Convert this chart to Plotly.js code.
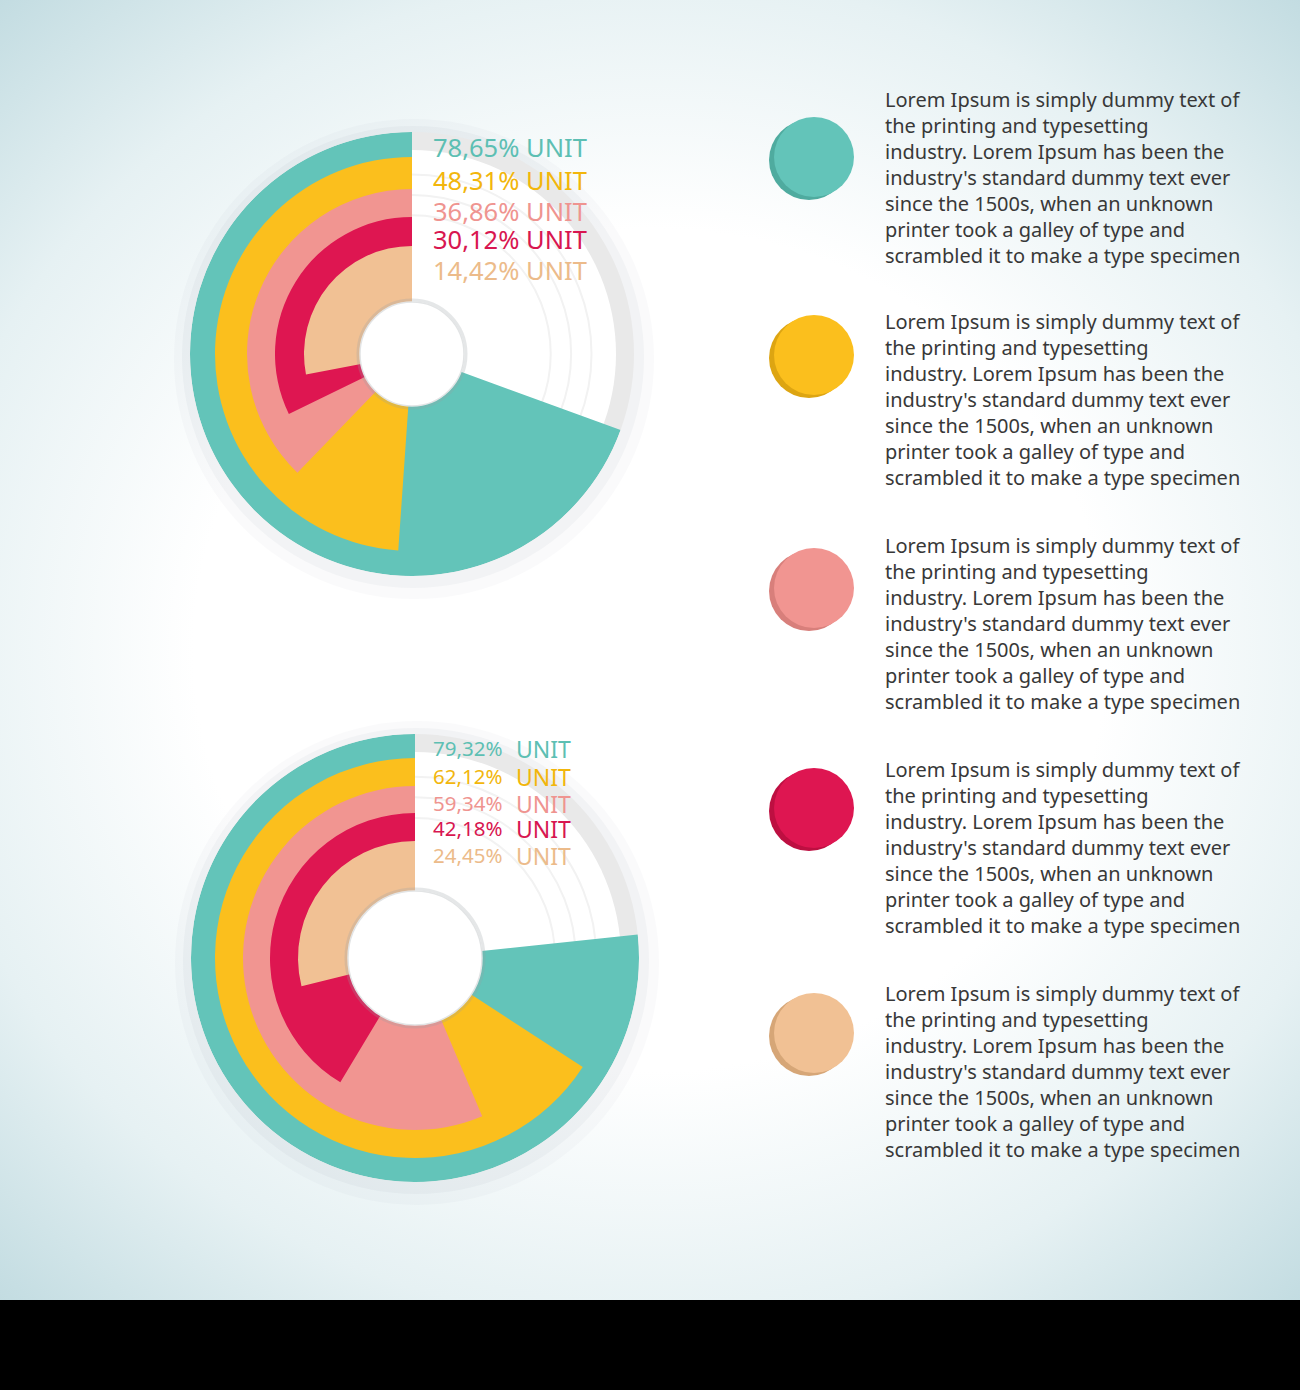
<!DOCTYPE html>
<html>
<head>
<meta charset="utf-8">
<script src="https://cdn.plot.ly/plotly-3.0.1.min.js"></script>
<style>
body{margin:0;}
#bg{position:absolute;left:0;top:0;width:1300px;height:1300px;
  background:radial-gradient(ellipse 78% 72% at 50% 50%, #ffffff 45%, #e6f1f3 72%, #bad7dd 100%);}
#band{position:absolute;left:0;top:1300px;width:1300px;height:90px;background:#000;}
#chart{position:absolute;left:0;top:0;width:1300px;height:1390px;}
</style>
</head>
<body>
<div id="bg"></div>
<div id="band"></div>
<div id="chart"></div>
<script>
// series colours, outer ring first
const ringColors = ['#63c4b9', '#fbbf1d', '#f19591', '#de1651', '#f1c194'];
const labelColors = ['#5dbfb3', '#f2b60c', '#ef9490', '#d81650', '#ecbb8a'];
const dotShadow = ['#4fab9f', '#dda512', '#d87f7b', '#bd0f41', '#d6a677'];

// top chart: labels, ring length and angular sweep (deg)
const topPct = ['78,65%', '48,31%', '36,86%', '30,12%', '14,42%'];
const topLength = [170, 145, 113, 85, 56];
const topSweep = [250, 176, 136, 116, 101];

// bottom chart
const bottomPct = ['79,32%', '62,12%', '59,34%', '42,18%', '24,45%'];
const bottomLength = [157, 133, 105, 78, 50];
const bottomSweep = [276, 237, 203, 149, 104];

const unitLabel = 'UNIT';

const paraLines = [
  'Lorem Ipsum is simply dummy text of',
  'the printing and typesetting',
  'industry. Lorem Ipsum has been the',
  "industry's standard dummy text ever",
  'since the 1500s, when an unknown',
  'printer took a galley of type and',
  'scrambled it to make a type specimen'
];

const W = 1300, H = 1390;
const px = x => x / W;
const py = y => 1 - y / H;

function dom(cx, cy, r){
  return {x: [px(cx - r), px(cx + r)], y: [py(cy + r), py(cy - r)]};
}

function circle(cx, cy, r, fill, line, lw, layer){
  return {type: 'circle', xref: 'paper', yref: 'paper', layer: layer || 'below',
    x0: px(cx - r), x1: px(cx + r), y0: py(cy + r), y1: py(cy - r),
    fillcolor: fill, line: {color: line || 'rgba(0,0,0,0)', width: lw || 0}};
}

const charts = [
  {subplot: 'polar', cx: 412, cy: 354, R: 222, hole: 52, len: topLength, sweep: topSweep},
  {subplot: 'polar2', cx: 415, cy: 958, R: 224, hole: 67, len: bottomLength, sweep: bottomSweep}
];

const data = [];
const shapes = [];

charts.forEach(c => {
  // soft shadow + grey rim + white face with faint rings
  shapes.push(circle(c.cx + 2, c.cy + 5, c.R + 18, 'rgba(120,140,150,0.04)'));
  shapes.push(circle(c.cx + 1, c.cy + 3, c.R + 9, 'rgba(120,140,150,0.06)'));
  shapes.push(circle(c.cx, c.cy, c.R, '#e9e9e9'));
  shapes.push(circle(c.cx, c.cy, c.R - 18, '#ffffff'));
  [0.88, 0.78, 0.68].forEach(f => {
    shapes.push(circle(c.cx, c.cy, (c.R - 18) * f, 'rgba(0,0,0,0)', '#f2f2f2', 2));
  });
  // hole
  shapes.push(circle(c.cx, c.cy, c.hole + 2, 'rgba(0,0,0,0)', 'rgba(150,160,165,0.25)', 3, 'above'));
  shapes.push(circle(c.cx, c.cy, c.hole, '#ffffff', '#e2e4e5', 1.5, 'above'));

  c.len.forEach((v, k) => {
    data.push({
      type: 'barpolar',
      subplot: c.subplot,
      r: [v],
      theta: [90 + c.sweep[k] / 2],
      width: [c.sweep[k]],
      marker: {color: ringColors[k], line: {width: 0}},
      hoverinfo: 'skip',
      showlegend: false
    });
  });
});

const annotations = [];
const font = 'Noto Sans, Open Sans, sans-serif';

// top labels
const topLabelY = [147, 180, 211, 239, 270];
topPct.forEach((t, k) => {
  annotations.push({xref: 'paper', yref: 'paper', x: px(432), y: py(topLabelY[k]),
    xanchor: 'left', yanchor: 'middle', showarrow: false, borderpad: 0,
    text: t + ' ' + unitLabel,
    font: {family: font, size: 25.5, color: labelColors[k]}});
});

// bottom labels
const bottomLabelY = [748, 776, 803, 828, 855];
bottomPct.forEach((t, k) => {
  annotations.push({xref: 'paper', yref: 'paper', x: px(432), y: py(bottomLabelY[k]),
    xanchor: 'left', yanchor: 'middle', showarrow: false, borderpad: 0, text: t,
    font: {family: font, size: 20.5, color: labelColors[k]}});
  annotations.push({xref: 'paper', yref: 'paper', x: px(515), y: py(bottomLabelY[k] + 1),
    xanchor: 'left', yanchor: 'middle', showarrow: false, borderpad: 0, text: unitLabel,
    font: {family: font, size: 23, color: labelColors[k]}});
});

// right column: dots + paragraphs
const dotY = [157, 355, 588, 808, 1033];
const paraMidY = [178, 399, 623, 847, 1071];
dotY.forEach((y, k) => {
  shapes.push(circle(809, y + 3, 40, dotShadow[k], null, 0, 'above'));
  shapes.push(circle(814, y, 40, ringColors[k], null, 0, 'above'));
  annotations.push({xref: 'paper', yref: 'paper', x: px(883), y: py(paraMidY[k]),
    xanchor: 'left', yanchor: 'middle', align: 'left', showarrow: false,
    text: paraLines.join('<br>'),
    font: {family: font, size: 20, color: '#383838'}});
});

const polarBase = c => ({
  domain: dom(c.cx, c.cy, c.R),
  hole: c.hole / c.R,
  barmode: 'overlay',
  bgcolor: 'rgba(0,0,0,0)',
  radialaxis: {visible: false, range: [0, c.len[0]]},
  angularaxis: {visible: false, rotation: 0, direction: 'counterclockwise'}
});

const layout = {
  width: W, height: H,
  margin: {l: 0, r: 0, t: 0, b: 0},
  paper_bgcolor: 'rgba(0,0,0,0)',
  plot_bgcolor: 'rgba(0,0,0,0)',
  showlegend: false,
  polar: polarBase(charts[0]),
  polar2: polarBase(charts[1]),
  shapes: shapes,
  annotations: annotations
};

Plotly.newPlot('chart', data, layout, {staticPlot: true, displayModeBar: false});
</script>
</body>
</html>
